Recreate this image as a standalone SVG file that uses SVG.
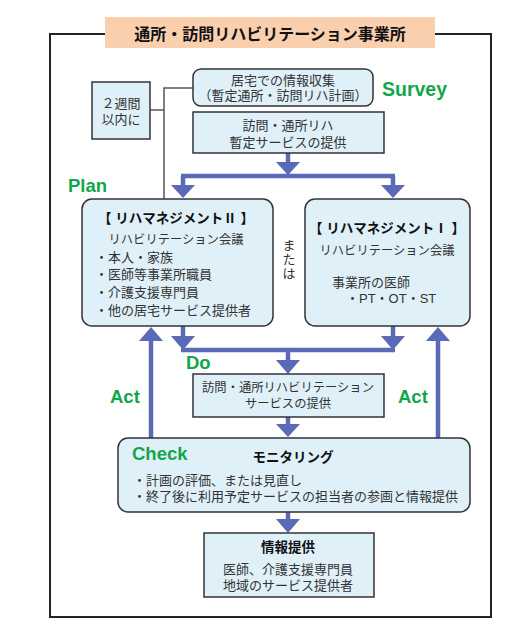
<svg xmlns="http://www.w3.org/2000/svg" width="528" height="639" viewBox="0 0 528 639">
<style>
text{font-family:"Liberation Sans","Noto Sans CJK JP",sans-serif;fill:#333;font-size:13px}
.c{text-anchor:middle}
.s{font-size:12.3px}
.b{font-weight:bold;fill:#111}
.g{font-family:"Liberation Sans",Arial,sans-serif;font-weight:bold;fill:#12a64a;font-size:18.5px}
.box{fill:#dff0f9;stroke:#333;stroke-width:1.5}
.shaft{stroke:#5b6ab6;stroke-width:4.5;fill:none}
.head{fill:#5b6ab6}
.thin{stroke:#555;stroke-width:1.5;fill:none}
</style>
<rect width="528" height="639" fill="#fff"/>
<g id="frame">
<rect x="50" y="34" width="441" height="583" fill="none" stroke="#222" stroke-width="2"/>
<rect x="105" y="17" width="330" height="31" fill="#f9cfae"/>
<text x="270" y="40" class="c b" style="font-size:16px">通所・訪問リハビリテーション事業所</text>
</g>
<g id="connectors">
<polyline class="thin" points="150,110 164,110"/>
<polyline class="thin" points="193,88 164,88 164,199"/>
<line class="shaft" x1="288" y1="153" x2="288" y2="164"/>
<polygon class="head" points="276,162 300,162 288,175"/>
<line class="shaft" x1="181" y1="176" x2="395" y2="176"/>
<line class="shaft" x1="183" y1="176" x2="183" y2="187"/>
<polygon class="head" points="171,185 195,185 183,198"/>
<line class="shaft" x1="393" y1="176" x2="393" y2="187"/>
<polygon class="head" points="381,185 405,185 393,198"/>
<line class="shaft" x1="183" y1="326" x2="183" y2="338"/>
<polygon class="head" points="171,336 195,336 183,350"/>
<line class="shaft" x1="393" y1="326" x2="393" y2="338"/>
<polygon class="head" points="381,336 405,336 393,350"/>
<line class="shaft" x1="181" y1="350" x2="395" y2="350"/>
<line class="shaft" x1="288" y1="350" x2="288" y2="362"/>
<polygon class="head" points="276,360 300,360 288,374"/>
<line class="shaft" x1="288" y1="417" x2="288" y2="426"/>
<polygon class="head" points="276,424 300,424 288,437"/>
<line class="shaft" x1="288" y1="512" x2="288" y2="521"/>
<polygon class="head" points="276,519 300,519 288,533"/>
<line class="shaft" x1="151" y1="438" x2="151" y2="339"/>
<polygon class="head" points="139,341 163,341 151,327"/>
<line class="shaft" x1="438" y1="438" x2="438" y2="339"/>
<polygon class="head" points="426,341 450,341 438,327"/>
</g>
<g id="survey">
<rect class="box" x="193" y="69" width="180" height="37" rx="8"/>
<text x="283" y="85" class="c">居宅での情報収集</text>
<text x="283" y="100" class="c">（暫定通所・訪問リハ計画）</text>
</g>
<g id="two-weeks">
<rect class="box" x="92" y="82" width="58" height="57"/>
<text x="121" y="108" class="c">２週間</text>
<text x="121" y="124" class="c">以内に</text>
</g>
<g id="provisional">
<rect class="box" x="193" y="112" width="191" height="41"/>
<text x="288" y="130" class="c">訪問・通所リハ</text>
<text x="288" y="147" class="c">暫定サービスの提供</text>
</g>
<g id="rm2">
<rect class="box" x="82" y="199" width="191" height="127" rx="10"/>
<text x="176" y="223" class="c b" style="font-size:13.5px">【 リハマネジメントⅡ 】</text>
<text x="176" y="244" class="c s">リハビリテーション会議</text>
<text x="95" y="262">・本人・家族</text>
<text x="95" y="279">・医師等事業所職員</text>
<text x="95" y="297">・介護支援専門員</text>
<text x="95" y="315">・他の居宅サービス提供者</text>
</g>
<g id="or">
<text x="289" y="250" class="c">ま</text>
<text x="289" y="264" class="c">た</text>
<text x="289" y="278" class="c">は</text>
</g>
<g id="rm1">
<rect class="box" x="305" y="199" width="165" height="127" rx="10"/>
<text x="387" y="233" class="c b" style="font-size:13.5px">【 リハマネジメントⅠ 】</text>
<text x="387" y="255" class="c s">リハビリテーション会議</text>
<text x="332" y="287">事業所の医師</text>
<text x="346" y="303">・PT・OT・ST</text>
</g>
<g id="do">
<rect class="box" x="193" y="374" width="191" height="43"/>
<text x="288" y="392" class="c s">訪問・通所リハビリテーション</text>
<text x="288" y="408" class="c s">サービスの提供</text>
</g>
<g id="check">
<rect class="box" x="118" y="438" width="352" height="74" rx="10"/>
<text x="293" y="462" class="c b" style="font-size:13.5px">モニタリング</text>
<text x="133" y="485">・計画の評価、または見直し</text>
<text x="133" y="501">・終了後に利用予定サービスの担当者の参画と情報提供</text>
</g>
<g id="info">
<rect class="box" x="204" y="533" width="170" height="64"/>
<text x="288" y="552" class="c b" style="font-size:13.5px">情報提供</text>
<text x="288" y="574" class="c">医師、介護支援専門員</text>
<text x="288" y="590" class="c">地域のサービス提供者</text>
</g>
<g id="labels">
<text x="382" y="96" class="g" style="font-size:19.5px">Survey</text>
<text x="68" y="192" class="g">Plan</text>
<text x="186" y="369" class="g">Do</text>
<text x="110" y="403" class="g">Act</text>
<text x="398" y="403" class="g">Act</text>
<text x="132" y="460" class="g">Check</text>
</g>
</svg>
